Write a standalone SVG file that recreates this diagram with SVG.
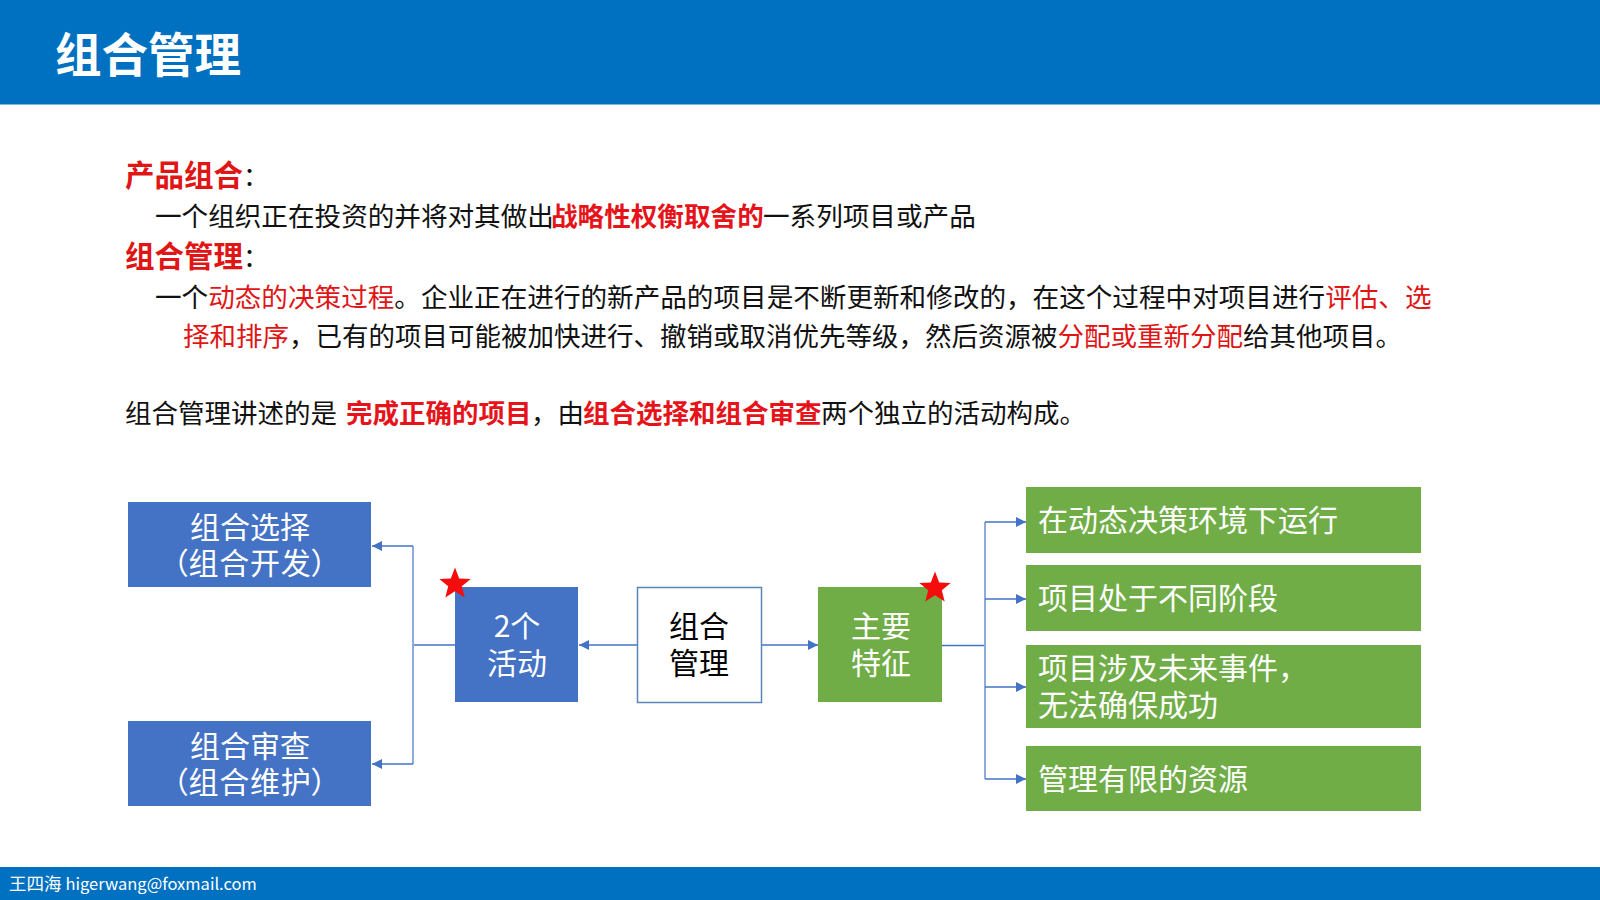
<svg xmlns="http://www.w3.org/2000/svg" width="1600" height="900" viewBox="0 0 1600 900">
<defs>
<marker id="arr" viewBox="0 0 10 10" refX="10" refY="5" markerWidth="10" markerHeight="10" markerUnits="userSpaceOnUse" orient="auto"><path d="M0,0L10,5L0,10Z" fill="#4472c4"/></marker>
<path id="star" d="M0,-16.500L4.200,-5.600L15.700,-5.100L6.800,2.200L9.700,13.500L0,7.200L-9.700,13.500L-6.800,2.200L-15.700,-5.100L-4.200,-5.600Z" fill="#f50d0d"/>
</defs>
<style>
text{font-family:"Noto Sans CJK SC","Noto Sans",sans-serif}
.body{font-size:26.5px;fill:#111}
.wide{font-size:26.6px}
.head{font-size:29.5px;font-weight:700;fill:#e01515}
.r{fill:#e01515}
.b{font-weight:700;fill:#e6141a}
.lbl{font-size:30px;fill:#fff;text-anchor:middle}
.lblk{font-size:30px;fill:#000;text-anchor:middle}
.lg{font-size:30px;fill:#fff}
.par{font-feature-settings:"palt" 1;letter-spacing:0.8px}
.bl{fill:#4472c4}
.gr{fill:#70ad47}
.c{fill:none;stroke:#4472c4;stroke-width:1.5}
.cv{fill:none;stroke:#8faadc;stroke-width:2}
</style>
<rect width="1600" height="104.500" fill="#0070c0"/>
<rect y="867" width="1600" height="33" fill="#0070c0"/>
<text x="55" y="72" font-size="46.500" font-weight="700" fill="#fff">组合管理</text>
<text x="9" y="890" font-size="17.500" fill="#fff">王四海 <tspan font-size="16.500">higerwang@foxmail.com</tspan></text>

<text class="head" x="125" y="186">产品组合<tspan font-weight="400" fill="#111" font-size="26">：</tspan></text>
<text class="body wide" x="155" y="226">一个组织正在投资的并将对其做出<tspan class="b" x="551">战略性权衡取舍的</tspan><tspan x="763">一系列项目或产品</tspan></text>
<text class="head" x="125" y="267">组合管理<tspan font-weight="400" fill="#111" font-size="26">：</tspan></text>
<text class="body wide" x="155" y="307">一个<tspan class="r">动态的决策过程</tspan>。企业正在进行的新产品的项目是不断更新和修改的，在这个过程中对项目进行<tspan class="r">评估、选</tspan></text>
<text class="body" x="183" y="346"><tspan class="r">择和排序</tspan>，已有的项目可能被加快进行、撤销或取消优先等级，然后资源被<tspan class="r">分配或重新分配</tspan>给其他项目。</text>
<text class="body" x="125" y="423">组合管理讲述的是<tspan class="b" x="346">完成正确的项目</tspan><tspan x="531">，由</tspan><tspan class="b" x="583">组合选择和组合审查</tspan><tspan x="821">两个独立的活动构成。</tspan></text>

<g id="connectors">
<path class="c" d="M455,645H413"/>
<path class="cv" d="M413,546V764"/>
<path class="c" d="M413,546H372" marker-end="url(#arr)"/>
<path class="c" d="M413,764H372" marker-end="url(#arr)"/>
<path class="c" d="M637,645H579" marker-end="url(#arr)"/>
<path class="c" d="M762,645H818" marker-end="url(#arr)"/>
<path class="c" d="M942,645.500H985" stroke-width="2"/>
<path class="cv" d="M985,522V779"/>
<path class="c" d="M985,522H1026" marker-end="url(#arr)"/>
<path class="c" d="M985,599H1026" marker-end="url(#arr)"/>
<path class="c" d="M985,687H1026" marker-end="url(#arr)"/>
<path class="c" d="M985,779H1026" marker-end="url(#arr)"/>
</g>

<g id="node-select"><rect class="bl" x="128" y="502" width="243" height="85"/><text class="lbl"><tspan x="250" y="538">组合选择</tspan><tspan class="par" x="250" y="574">（组合开发）</tspan></text></g>
<g id="node-review"><rect class="bl" x="128" y="721" width="243" height="85"/><text class="lbl"><tspan x="250" y="757">组合审查</tspan><tspan class="par" x="250" y="793">（组合维护）</tspan></text></g>
<g id="node-two"><rect class="bl" x="455" y="587" width="123" height="115"/><text class="lbl"><tspan x="517" y="637">2个</tspan><tspan x="517" y="674">活动</tspan></text></g>
<g id="node-pm"><rect x="637.500" y="587.500" width="124" height="115" fill="#fff" stroke="#5b84b8" stroke-width="1.500"/><text class="lblk"><tspan x="699" y="637">组合</tspan><tspan x="699" y="674">管理</tspan></text></g>
<g id="node-main"><rect class="gr" x="818" y="587" width="124" height="115"/><text class="lbl"><tspan x="881" y="637">主要</tspan><tspan x="881" y="674">特征</tspan></text></g>
<g id="node-f1"><rect class="gr" x="1026" y="487" width="395" height="66"/><text class="lg" x="1038" y="531">在动态决策环境下运行</text></g>
<g id="node-f2"><rect class="gr" x="1026" y="565" width="395" height="66"/><text class="lg" x="1038" y="609">项目处于不同阶段</text></g>
<g id="node-f3"><rect class="gr" x="1026" y="645" width="395" height="83"/><text class="lg"><tspan x="1038" y="679">项目涉及未来事件，</tspan><tspan x="1038" y="716">无法确保成功</tspan></text></g>
<g id="node-f4"><rect class="gr" x="1026" y="746" width="395" height="65"/><text class="lg" x="1038" y="790">管理有限的资源</text></g>
<use href="#star" x="455" y="584"/>
<use href="#star" x="935" y="588"/>
</svg>
